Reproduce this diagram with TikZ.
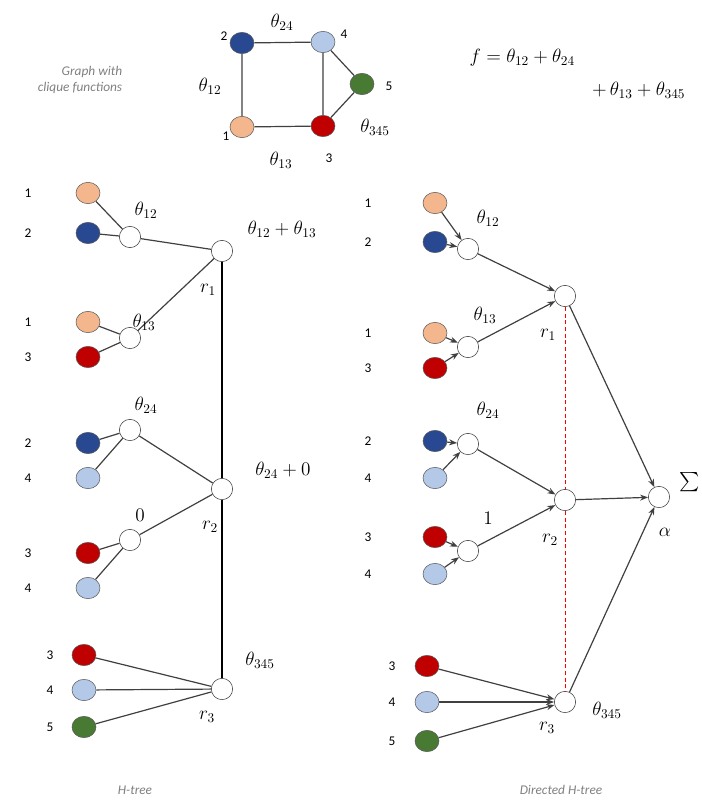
\documentclass[tikz,border=0pt]{standalone}
\usepackage{fontspec}
\setmainfont{Carlito}
\usepackage{amsmath}
\usetikzlibrary{arrows.meta,shapes.geometric}
\definecolor{corange}{RGB}{244,182,140}
\definecolor{cdblue}{RGB}{40,72,145}
\definecolor{clblue}{RGB}{180,200,232}
\definecolor{cred}{RGB}{192,0,0}
\definecolor{cgreen}{RGB}{72,122,52}
\begin{document}
\begin{tikzpicture}[x=0.75pt,y=-0.75pt,
  leaf/.style={draw=gray!70!black,ellipse,minimum width=18pt,minimum height=16pt,inner sep=0pt},
  inn/.style={draw=black!80,circle,minimum size=16pt,inner sep=0pt,fill=white},
  num/.style={font=\fontsize{10}{12}\selectfont},
  lab/.style={font=\fontsize{14}{16}\selectfont},
  edge/.style={draw=black!75,line width=0.9pt},
  arr/.style={edge,-{Stealth[length=6pt]}},
  captxt/.style={font=\fontsize{10}{12}\selectfont\itshape,text=gray}]
\useasboundingbox (0,0) rectangle (702,804);
% top graph
\node[leaf,fill=cdblue] (g2) at (242,43) {};
\node[leaf,fill=clblue] (g4) at (323,42) {};
\node[leaf,fill=cgreen] (g5) at (362,84) {};
\node[leaf,fill=corange] (g1) at (242,127) {};
\node[leaf,fill=cred] (g3) at (323,126) {};
\draw[edge] (g2)--(g4) (g2)--(g1) (g1)--(g3) (g4)--(g3) (g4)--(g5) (g5)--(g3);
\node[num] at (224,36) {2};
\node[num] at (344,34) {4};
\node[num] at (389,86) {5};
\node[num] at (226,136) {1};
\node[num] at (329,158) {3};
\node[lab] at (282,22) {$\theta_{24}$};
\node[lab] at (210,86) {$\theta_{12}$};
\node[lab] at (281,160) {$\theta_{13}$};
\node[lab] at (375,127) {$\theta_{345}$};
\node[captxt,align=right] at (80,80) {Graph with\\clique functions};
\node[lab,anchor=west] at (465,58) {$f=\theta_{12}+\theta_{24}$};
\node[lab,anchor=east] at (690,90) {$+\,\theta_{13}+\theta_{345}$};
% left tree
\foreach \n/\y/\c/\t in {a1/193/corange/1,a2/233/cdblue/2,a3/322/corange/1,a4/357/cred/3,a5/443/cdblue/2,a6/478/clblue/4,a7/553/cred/3,a8/588/clblue/4}
  {\node[leaf,fill=\c] (\n) at (88,\y) {}; \node[num] at (28,\y) {\t};}
\foreach \n/\y/\c/\t in {a9/655/cred/3,a10/690/clblue/4,a11/727/cgreen/5}
  {\node[leaf,fill=\c] (\n) at (84,\y) {}; \node[num] at (50,\y) {\t};}
\node[inn] (b1) at (130,237) {};
\node[inn] (b2) at (130,338) {};
\node[inn] (b3) at (130,430) {};
\node[inn] (b4) at (130,540) {};
\node[inn] (r1) at (222,251) {};
\node[inn] (r2) at (222,489) {};
\node[inn] (r3) at (222,689) {};
\draw[edge] (a1)--(b1) (a2)--(b1) (a3)--(b2) (a4)--(b2) (a5)--(b3) (a6)--(b3) (a7)--(b4) (a8)--(b4)
  (b1)--(r1) (b2)--(r1) (b3)--(r2) (b4)--(r2) (a9)--(r3) (a10)--(r3) (a11)--(r3);
\draw[black,line width=1.4pt] (r1)--(r2) (r2)--(r3);
\node[lab] at (146,210) {$\theta_{12}$};
\node[lab] at (144,322) {$\theta_{13}$};
\node[lab] at (146,405) {$\theta_{24}$};
\node[lab] at (140,515) {$0$};
\node[lab] at (282,229) {$\theta_{12}+\theta_{13}$};
\node[lab] at (208,290) {$r_1$};
\node[lab] at (283,470) {$\theta_{24}+0$};
\node[lab] at (210,527) {$r_2$};
\node[lab] at (260,660) {$\theta_{345}$};
\node[lab] at (207,717) {$r_3$};
\node[captxt] at (135,790) {H-tree};
% right tree
\foreach \n/\y/\c/\t in {c1/203/corange/1,c2/242/cdblue/2,c3/333/corange/1,c4/368/cred/3,c5/441/cdblue/2,c6/478/clblue/4,c7/537/cred/3,c8/574/clblue/4}
  {\node[leaf,fill=\c] (\n) at (435,\y) {}; \node[num] at (368,\y) {\t};}
\foreach \n/\y/\c/\t in {c9/666/cred/3,c10/702/clblue/4,c11/741/cgreen/5}
  {\node[leaf,fill=\c] (\n) at (427,\y) {}; \node[num] at (392,\y) {\t};}
\node[inn] (d1) at (468,249) {};
\node[inn] (d2) at (468,347) {};
\node[inn] (d3) at (468,444) {};
\node[inn] (d4) at (468,551) {};
\node[inn] (s1) at (565,296) {};
\node[inn] (s2) at (565,500) {};
\node[inn] (s3) at (565,702) {};
\node[inn] (al) at (659,497) {};
\draw[red,densely dashed,line width=0.6pt] (s1)--(s2) (s2)--(s3);
\draw[arr] (c1)--(d1); \draw[arr] (c2)--(d1); \draw[arr] (c3)--(d2); \draw[arr] (c4)--(d2);
\draw[arr] (c5)--(d3); \draw[arr] (c6)--(d3); \draw[arr] (c7)--(d4); \draw[arr] (c8)--(d4);
\draw[arr] (d1)--(s1); \draw[arr] (d2)--(s1); \draw[arr] (d3)--(s2); \draw[arr] (d4)--(s2);
\draw[arr] (c9)--(s3); \draw[arr] (c10)--(s3); \draw[arr] (c11)--(s3);
\draw[arr] (s1)--(al); \draw[arr] (s2)--(al); \draw[arr] (s3)--(al);
\node[lab] at (488,218) {$\theta_{12}$};
\node[lab] at (485,315) {$\theta_{13}$};
\node[lab] at (488,410) {$\theta_{24}$};
\node[lab] at (488,518) {$1$};
\node[lab] at (548,335) {$r_1$};
\node[lab] at (550,540) {$r_2$};
\node[lab] at (547,728) {$r_3$};
\node[lab] at (607,710) {$\theta_{345}$};
\node[lab] at (690,482) {$\sum$};
\node[lab] at (665,532) {$\alpha$};
\node[captxt] at (561,790) {Directed H-tree};
\end{tikzpicture}
\end{document}
